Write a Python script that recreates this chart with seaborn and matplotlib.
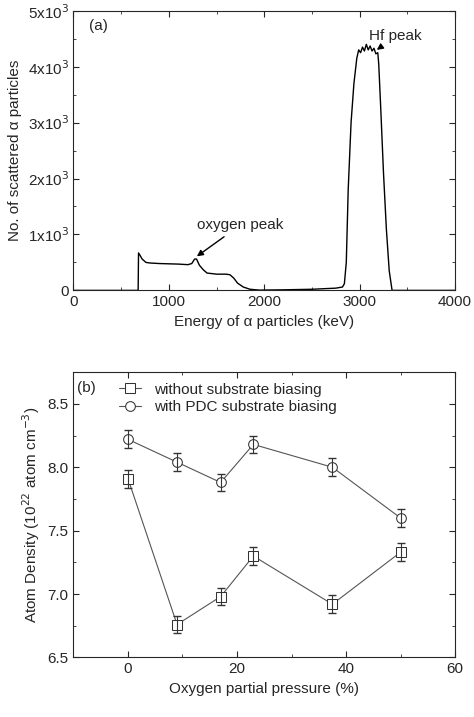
import numpy as np
import matplotlib.pyplot as plt
import seaborn as sns

# spectrum key points
energy = [0, 678, 682, 700, 720, 760, 800, 900, 1000, 1100, 1200, 1240, 1270, 1290, 1320, 1360, 1400, 1500,
          1600, 1640, 1680, 1720, 1780, 1850, 1950, 2200, 2500, 2750, 2820, 2840, 2860, 2880, 2910, 2940,
          2970, 2990, 3010, 3030, 3050, 3070, 3090, 3110, 3130, 3150, 3170, 3190, 3200, 3220, 3250, 3280,
          3310, 3340, 4000]
counts = [0, 0, 670, 620, 560, 500, 490, 480, 475, 470, 460, 480, 560, 560, 450, 370, 310, 290,
          290, 280, 220, 130, 60, 20, 5, 10, 20, 40, 60, 120, 500, 1800, 3000, 3700,
          4150, 4300, 4250, 4350, 4280, 4400, 4300, 4370, 4280, 4330, 4230, 4250, 4050, 3300, 2100, 1100,
          350, 0, 0]

pressure = [0, 9, 17, 23, 37.5, 50]
density_no_bias = [7.91, 6.76, 6.98, 7.30, 6.92, 7.33]
density_pdc = [8.22, 8.04, 7.88, 8.18, 8.00, 7.60]
err = 0.07

sns.set_style("ticks")
plt.rcParams['font.family'] = ['Liberation Sans', 'DejaVu Sans']
fig = plt.figure(figsize=(4.74, 7.17), dpi=100)
ax1 = fig.add_axes([0.155, 0.595, 0.805, 0.39])
ax2 = fig.add_axes([0.155, 0.083, 0.805, 0.398])

sns.lineplot(x=energy, y=counts, ax=ax1, color="black", lw=1)
ax1.set_xlim(0, 4000)
ax1.set_ylim(0, 5000)
ax1.set_xticks([0, 1000, 2000, 3000, 4000])
ax1.set_xticks(np.arange(500, 4000, 1000), minor=True)
ax1.set_yticks([0, 1000, 2000, 3000, 4000, 5000])
ax1.set_yticks(np.arange(500, 5000, 1000), minor=True)
ax1.set_yticklabels(["0"] + [rf"{i}x10$^3$" for i in range(1, 6)])
ax1.set_xlabel("Energy of α particles (keV)", fontsize=11)
ax1.set_ylabel("No. of scattered α particles", fontsize=11)
ax1.text(0.04, 0.93, "(a)", transform=ax1.transAxes, fontsize=11)
ax1.annotate("oxygen peak", xy=(1270, 580), xytext=(1300, 1100), fontsize=11,
             arrowprops=dict(arrowstyle="-|>", color="black", lw=1, mutation_scale=9))
ax1.annotate("Hf peak", xy=(3180, 4300), xytext=(3100, 4470), fontsize=11,
             arrowprops=dict(arrowstyle="-|>", color="black", lw=1, mutation_scale=9))

for y, m, lab in [(density_no_bias, "s", "without substrate biasing"),
                  (density_pdc, "o", "with PDC substrate biasing")]:
    sns.lineplot(x=pressure, y=y, ax=ax2, color="#555555", lw=0.8, marker=m, markersize=7,
                 markerfacecolor="white", markeredgecolor="#333333", label=lab)
    ax2.errorbar(pressure, y, yerr=err, fmt="none", ecolor="#333333", elinewidth=0.8, capsize=3)
ax2.set_xlim(-10, 60)
ax2.set_ylim(6.5, 8.75)
ax2.set_xticks([0, 20, 40, 60])
ax2.set_xticks([-10, 10, 30, 50], minor=True)
ax2.set_yticks([6.5, 7.0, 7.5, 8.0, 8.5])
ax2.set_yticks([6.75, 7.25, 7.75, 8.25], minor=True)
ax2.set_xlabel("Oxygen partial pressure (%)", fontsize=11)
ax2.set_ylabel(r"Atom Density (10$^{22}$ atom cm$^{-3}$)", fontsize=11)
ax2.text(0.01, 0.93, "(b)", transform=ax2.transAxes, fontsize=11)
ax2.legend(loc="upper left", bbox_to_anchor=(0.09, 1.0), frameon=False, fontsize=11,
           handlelength=1.5, borderaxespad=0.3, labelspacing=0.2)

for ax in (ax1, ax2):
    for s in ax.spines.values():
        s.set_visible(True)
        s.set_linewidth(0.8)
    ax.tick_params(which="both", direction="in", top=True, right=True, labelsize=11)
    ax.tick_params(which="minor", length=2)
    ax.tick_params(which="major", length=4)

fig.savefig("out.png", dpi=100)
